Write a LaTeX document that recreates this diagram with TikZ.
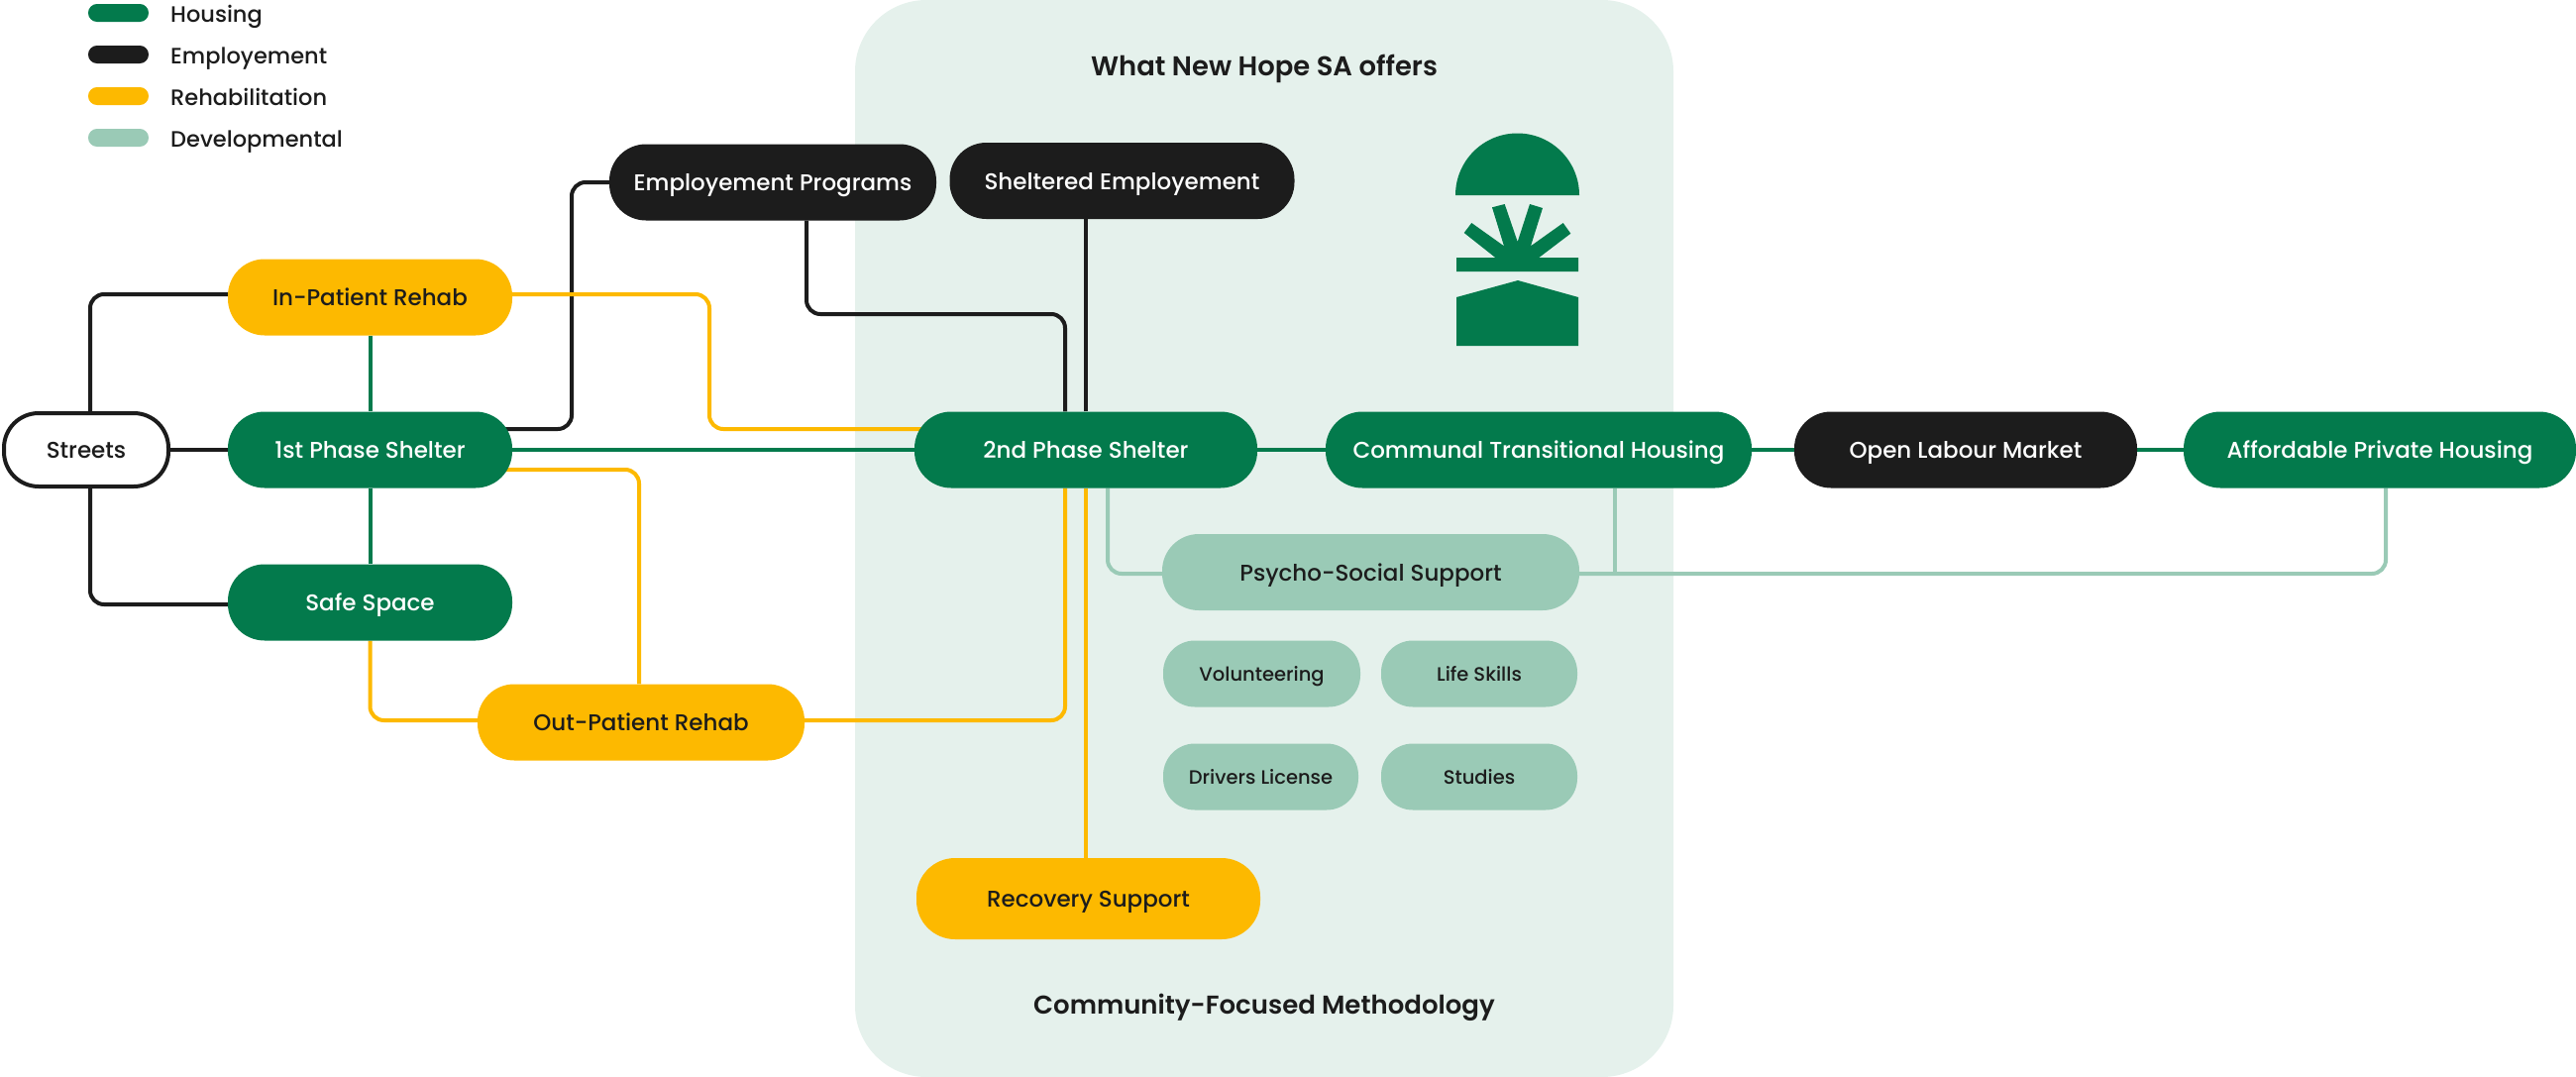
\documentclass[tikz,border=0pt]{standalone}
\usepackage{fontspec}
\setmainfont{Poppins}[UprightFont={Poppins Medium}, BoldFont={Poppins SemiBold}]
\usepackage{tikz}
\usetikzlibrary{positioning}

\definecolor{Hcolor}{RGB}{3,122,76}
\definecolor{Ecolor}{RGB}{28,28,28}
\definecolor{Rcolor}{RGB}{253,185,0}
\definecolor{Dcolor}{RGB}{154,202,182}
\definecolor{Pcolor}{RGB}{229,241,236}

\pgfdeclarelayer{wires}
\pgfsetlayers{wires,main}

\tikzset{
    pill/.style={rounded corners=37pt, inner sep=0pt, minimum height=77pt, text height=18pt, text depth=1pt, font=\fontsize{23}{28}\selectfont},
    housing/.style={pill, fill=Hcolor, text=white},
    employ/.style={pill, fill=Ecolor, text=white},
    rehab/.style={pill, fill=Rcolor, text=Ecolor},
    devel/.style={pill, fill=Dcolor, text=Ecolor},
    small/.style={devel, rounded corners=32pt, minimum height=67pt, text height=15pt, text depth=0pt, font=\fontsize{19.5}{24}\selectfont},
    swatch/.style={rounded corners=8.9pt, inner sep=0pt, minimum width=61pt, minimum height=18pt},
    legendtext/.style={right, inner sep=0pt, text height=18pt, text depth=0pt, text=Ecolor, font=\fontsize{22.5}{28}\selectfont},
    title/.style={inner sep=0pt, text height=19pt, text depth=0pt, text=Ecolor, font=\fontsize{27.4}{32}\selectfont\bfseries},
    wire/.style={rounded corners=14pt, line width=4pt},
    Hwire/.style={wire, Hcolor},
    Ewire/.style={wire, Ecolor},
    Rwire/.style={wire, Rcolor},
    Dwire/.style={wire, Dcolor}
}

\begin{document}
\begin{tikzpicture}[x=1pt, y=-1pt]

    \useasboundingbox (0,0) rectangle (2600,1087);

    % --- Panel
    \begin{pgfonlayer}{wires}
        \fill[Pcolor, rounded corners=72pt] (863,0) rectangle (1689,1087);
    \end{pgfonlayer}

    % --- Legend
    \node[swatch, fill=Hcolor] (swH) at (119.5,13) {};
    \node[swatch, fill=Ecolor] (swE) at (119.5,55) {};
    \node[swatch, fill=Rcolor] (swR) at (119.5,97) {};
    \node[swatch, fill=Dcolor] (swD) at (119.5,139) {};
    \node[legendtext] (lgH) at (172,13) {Housing};
    \node[legendtext] (lgE) at (172,55) {Employement};
    \node[legendtext] (lgR) at (172,97) {Rehabilitation};
    \node[legendtext] (lgD) at (172,139) {Developmental};

    % --- Titles
    \node[title] (offers) at (1276,66.5) {What New Hope SA offers};
    \node[title, font=\fontsize{26}{32}\selectfont\bfseries] (method) at (1276,1013.5) {Community-Focused Methodology};

    % --- Left column
    \node[pill, draw=Ecolor, line width=4pt, fill=white, text=Ecolor, rounded corners=35pt, minimum width=166pt, minimum height=74pt] (streets) at (87,454) {Streets};
    \node[rehab, minimum width=287pt] (inpatient) at (373.5,300) {In-Patient Rehab};
    \node[housing, minimum width=287pt] (phaseone) at (373.5,454) {1st Phase Shelter};
    \node[housing, minimum width=287pt] (safespace) at (373.5,608) {Safe Space};
    \node[rehab, minimum width=330pt] (outpatient) at (647,729) {Out-Patient Rehab};
    \node[employ, minimum width=330pt] (programs) at (780,184) {Employement Programs};
    \node[employ, minimum width=348pt] (sheltered) at (1132.5,182.5) {Sheltered Employement};

    % --- Main row
    \node[housing, minimum width=346pt] (phasetwo) at (1096,454) {2nd Phase Shelter};
    \node[housing, minimum width=430pt] (communal) at (1553,454) {Communal Transitional Housing};
    \node[employ, minimum width=346pt] (labour) at (1984,454) {Open Labour Market};
    \node[housing, minimum width=396pt] (private) at (2402,454) {Affordable Private Housing};

    % --- Developmental
    \node[devel, minimum width=421pt] (psycho) at (1383.5,577.5) {Psycho-Social Support};
    \node[small, minimum width=199pt] (volunteer) at (1273.5,680) {Volunteering};
    \node[small, minimum width=198pt] (lifeskills) at (1493,680) {Life Skills};
    \node[small, minimum width=197pt] (drivers) at (1272.5,784) {Drivers License};
    \node[small, minimum width=198pt] (studies) at (1493,784) {Studies};
    \node[rehab, rounded corners=39pt, minimum width=347pt, minimum height=82pt] (recovery) at (1098.5,907) {Recovery Support};

    % --- Logo
    \fill[Hcolor] (1469,197) arc[start angle=180, end angle=360, radius=62.5] -- cycle;
    \fill[Hcolor] (1470,260) -- (1509.3,260) -- (1477.7,235) -- (1485.3,225) -- (1518,248.3) -- (1506,209.3)
        -- (1518.7,206) -- (1531.7,244) -- (1544,206) -- (1557,210) -- (1545,248.3) -- (1577.7,225)
        -- (1585.3,235.7) -- (1553.3,260) -- (1593,260) -- (1593,274) -- (1470,274) -- cycle;
    \fill[Hcolor] (1470,349) -- (1470,300) -- (1532,283) -- (1593,300) -- (1593,349) -- cycle;

    % --- Connectors
    \coordinate (employturn) at (577,184);
    \coordinate (rehabturn) at (716,297);
    \coordinate (programturn) at (1075,317);
    \begin{pgfonlayer}{wires}
        \draw[Ewire] ([xshift=4pt]streets.north) |- ([yshift=3pt]inpatient.west);
        \draw[Ewire] (streets.east) -- (phaseone.west);
        \draw[Ewire] ([xshift=4pt]streets.south) |- ([yshift=-2pt]safespace.west);
        \draw[Hwire] (inpatient.south) -- (phaseone.north);
        \draw[Hwire] (phaseone.south) -- (safespace.north);
        \draw[Hwire] (phaseone.east) -- (phasetwo.west);
        \draw[Hwire] (phasetwo.east) -- (communal.west);
        \draw[Hwire] (communal.east) -- (labour.west);
        \draw[Hwire] (labour.east) -- (private.west);
        \draw[Ewire] ([xshift=-20pt,yshift=21pt]phaseone.east) -| (employturn) -- (programs.west);
        \draw[Rwire] ([yshift=3pt]inpatient.east) -- (rehabturn) |- ([xshift=20pt,yshift=21pt]phasetwo.west);
        \draw[Rwire] ([xshift=-20pt,yshift=-20pt]phaseone.east) -| ([xshift=-2pt]outpatient.north);
        \draw[Rwire] (safespace.south) |- ([yshift=2pt]outpatient.west);
        \draw[Rwire] ([yshift=2pt]outpatient.east) -| ([xshift=-21pt]phasetwo.south);
        \draw[Ewire] ([xshift=34pt]programs.south) |- (programturn) -- ([xshift=-21pt]phasetwo.north);
        \draw[Ewire] (phasetwo.north) -- (phasetwo.north |- sheltered.south);
        \draw[Rwire] (phasetwo.south) -- (phasetwo.south |- recovery.north);
        \draw[Dwire] ([xshift=22pt]phasetwo.south) |- ([yshift=-1.5pt]psycho.west);
        \draw[Dwire] ([yshift=-1.5pt]psycho.east) -| ([xshift=6pt]private.south);
        \draw[Dwire] ([xshift=77pt]communal.south) -- ([xshift=77pt,yshift=-1.5pt]communal.south |- psycho.east);
    \end{pgfonlayer}

\end{tikzpicture}
\end{document}
